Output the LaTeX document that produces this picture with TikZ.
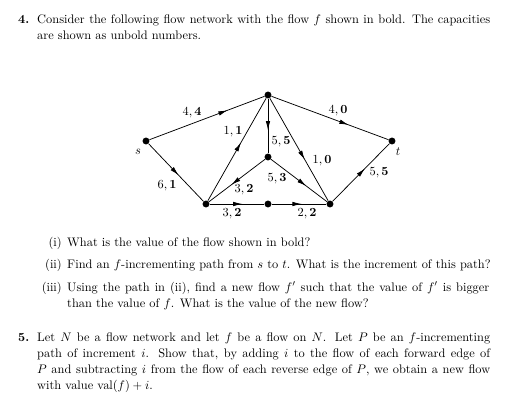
\documentclass[tikz,border=0pt]{standalone}
\usetikzlibrary{arrows.meta,decorations.markings}
\newcommand{\jline}[2]{\makebox[#1][s]{#2}}
\begin{document}
\begin{tikzpicture}[x=0.808pt,y=-0.808pt,
  vdot/.style={circle,fill=black,inner sep=0pt,minimum size=5.6pt},
  flowedge/.style={line width=0.6pt,postaction={decorate},
    decoration={markings,mark=at position #1 with {\arrow{Latex[length=7.5pt,width=3.6pt]}}}},
  flowedge/.default=0.6,
  lab/.style={inner sep=0pt},
  txt/.style={anchor=base west,inner sep=0pt},
  rtxt/.style={anchor=base east,inner sep=0pt}]
\useasboundingbox (0,0) rectangle (532,419);
% vertices
\node[vdot] (s) at (146,141) {};
\node[vdot] (a) at (268,95) {};
\node[vdot] (m) at (268,157) {};
\node[vdot] (b) at (206,204) {};
\node[vdot] (c) at (268,204) {};
\node[vdot] (d) at (330,204) {};
\node[vdot] (t) at (392,141) {};
\node[lab] (sl) at (138,152) {$s$};
\node[lab] (tl) at (398,152) {$t$};
% edges
\draw[flowedge=0.68] (s) -- (a);
\draw[flowedge=0.55] (s) -- (b);
\draw[flowedge=0.57] (b) -- (a);
\draw[flowedge=0.58] (a) -- (m);
\draw[flowedge=0.6] (a) -- (d);
\draw[flowedge=0.66] (a) -- (t);
\draw[flowedge=0.6] (m) -- (b);
\draw[flowedge=0.63] (m) -- (d);
\draw[flowedge=0.6] (b) -- (c);
\draw[flowedge=0.55] (c) -- (d);
\draw[flowedge=0.57] (d) -- (t);
% edge labels
\node[lab] (e1) at (192,113) {$4,\mathbf{4}$};
\node[lab] (e2) at (233,132) {$1,\mathbf{1}$};
\node[lab] (e3) at (281,142) {$5,\mathbf{5}$};
\node[lab] (e4) at (338,111) {$4,\mathbf{0}$};
\node[lab] (e5) at (322,161) {$1,\mathbf{0}$};
\node[lab] (e6) at (167,186) {$6,\mathbf{1}$};
\node[lab] (e7) at (244,190) {$3,\mathbf{2}$};
\node[lab] (e8) at (277,179) {$5,\mathbf{3}$};
\node[lab] (e9) at (379,173) {$5,\mathbf{5}$};
\node[lab] (e10) at (232,214) {$3,\mathbf{2}$};
\node[lab] (e11) at (307,214) {$2,\mathbf{2}$};
% text
\node[txt] (q4) at (18,23) {\textbf{4.}};
\node[txt] (q4a) at (37,23) {\jline{366pt}{Consider the following flow network with the flow $f$ shown in bold. The capacities}};
\node[txt] (q4b) at (37,39) {are shown as unbold numbers.};
\node[rtxt] (ri) at (62,246) {(i)};
\node[txt] (ti) at (67,246) {What is the value of the flow shown in bold?};
\node[rtxt] (rii) at (62,268) {(ii)};
\node[txt] (tii) at (67,268) {Find an $f$-incrementing path from $s$ to $t$. What is the increment of this path?};
\node[rtxt] (riii) at (62,291) {(iii)};
\node[txt] (tiii) at (67,291) {\jline{341pt}{Using the path in (ii), find a new flow $f'$ such that the value of $f'$ is bigger}};
\node[txt] (tiiib) at (67,307) {than the value of $f$. What is the value of the new flow?};
\node[txt] (q5) at (18,341) {\textbf{5.}};
\node[txt] (q5a) at (37,341) {\jline{366pt}{Let $N$ be a flow network and let $f$ be a flow on $N$. Let $P$ be an $f$-incrementing}};
\node[txt] (q5b) at (37,357) {\jline{366pt}{path of increment $i$. Show that, by adding $i$ to the flow of each forward edge of}};
\node[txt] (q5c) at (37,373) {\jline{366pt}{$P$ and subtracting $i$ from the flow of each reverse edge of $P$, we obtain a new flow}};
\node[txt] (q5d) at (37,389) {with value $\mathrm{val}(f)+i$.};
\end{tikzpicture}
\end{document}
